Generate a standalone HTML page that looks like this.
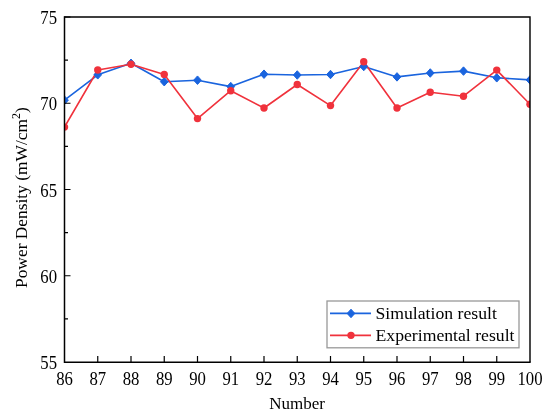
<!DOCTYPE html>
<html><head><meta charset="utf-8"><style>
html,body{margin:0;padding:0;background:#fff;}
body{width:550px;height:417px;overflow:hidden;}
svg{display:block;}
text{font-family:"Liberation Serif","Times New Roman",serif;fill:#000;}
</style></head><body>
<svg width="550" height="417" viewBox="0 0 550 417">
<rect width="550" height="417" fill="#fff"/>

<defs><clipPath id="c"><rect x="64.5" y="17.0" width="465.5" height="345.0"/></clipPath></defs>
<g clip-path="url(#c)">
<polyline points="64.50,100.20 97.75,74.80 131.00,63.30 164.25,81.70 197.50,80.20 230.75,86.60 264.00,74.20 297.25,75.00 330.50,74.50 363.75,66.50 397.00,76.90 430.25,73.00 463.50,71.10 496.75,77.80 530.00,79.90" fill="none" stroke="#1a64de" stroke-width="1.6" stroke-linejoin="round"/>
<polyline points="64.50,127.10 97.75,70.00 131.00,64.30 164.25,74.40 197.50,118.60 230.75,90.70 264.00,108.00 297.25,84.50 330.50,105.60 363.75,61.70 397.00,108.00 430.25,92.20 463.50,96.20 496.75,70.10 530.00,104.30" fill="none" stroke="#f0323c" stroke-width="1.6" stroke-linejoin="round"/>
<g fill="#1a64de" stroke="#1a64de" stroke-width="1" stroke-linejoin="round"><path d="M64.50 95.95L68.35 100.20L64.50 104.45L60.65 100.20Z"/><path d="M97.75 70.55L101.60 74.80L97.75 79.05L93.90 74.80Z"/><path d="M131.00 59.05L134.85 63.30L131.00 67.55L127.15 63.30Z"/><path d="M164.25 77.45L168.10 81.70L164.25 85.95L160.40 81.70Z"/><path d="M197.50 75.95L201.35 80.20L197.50 84.45L193.65 80.20Z"/><path d="M230.75 82.35L234.60 86.60L230.75 90.85L226.90 86.60Z"/><path d="M264.00 69.95L267.85 74.20L264.00 78.45L260.15 74.20Z"/><path d="M297.25 70.75L301.10 75.00L297.25 79.25L293.40 75.00Z"/><path d="M330.50 70.25L334.35 74.50L330.50 78.75L326.65 74.50Z"/><path d="M363.75 62.25L367.60 66.50L363.75 70.75L359.90 66.50Z"/><path d="M397.00 72.65L400.85 76.90L397.00 81.15L393.15 76.90Z"/><path d="M430.25 68.75L434.10 73.00L430.25 77.25L426.40 73.00Z"/><path d="M463.50 66.85L467.35 71.10L463.50 75.35L459.65 71.10Z"/><path d="M496.75 73.55L500.60 77.80L496.75 82.05L492.90 77.80Z"/><path d="M530.00 75.65L533.85 79.90L530.00 84.15L526.15 79.90Z"/></g>
<g fill="#f0323c"><circle cx="64.50" cy="127.10" r="3.7"/><circle cx="97.75" cy="70.00" r="3.7"/><circle cx="131.00" cy="64.30" r="3.7"/><circle cx="164.25" cy="74.40" r="3.7"/><circle cx="197.50" cy="118.60" r="3.7"/><circle cx="230.75" cy="90.70" r="3.7"/><circle cx="264.00" cy="108.00" r="3.7"/><circle cx="297.25" cy="84.50" r="3.7"/><circle cx="330.50" cy="105.60" r="3.7"/><circle cx="363.75" cy="61.70" r="3.7"/><circle cx="397.00" cy="108.00" r="3.7"/><circle cx="430.25" cy="92.20" r="3.7"/><circle cx="463.50" cy="96.20" r="3.7"/><circle cx="496.75" cy="70.10" r="3.7"/><circle cx="530.00" cy="104.30" r="3.7"/></g>
</g>
<path d="M97.75 362.0V356.0M131.00 362.0V356.0M164.25 362.0V356.0M197.50 362.0V356.0M230.75 362.0V356.0M264.00 362.0V356.0M297.25 362.0V356.0M330.50 362.0V356.0M363.75 362.0V356.0M397.00 362.0V356.0M430.25 362.0V356.0M463.50 362.0V356.0M496.75 362.0V356.0M64.5 275.75H70.5M64.5 189.50H70.5M64.5 103.25H70.5M64.5 17.00H70.5M64.5 318.88H68.0M64.5 232.62H68.0M64.5 146.38H68.0M64.5 60.12H68.0" stroke="#000" stroke-width="1.2" fill="none"/>
<path d="M64.5 17.0H530.0V362.0" stroke="#000" stroke-width="1.42" fill="none"/>
<path d="M64.5 16.3V362.2H530.7" stroke="#000" stroke-width="1.5" fill="none"/>
<rect x="327" y="301" width="192" height="46.8" fill="#fff" stroke="#999" stroke-width="1.3"/>
<path d="M330 313.4H371" stroke="#1a64de" stroke-width="1.6"/>
<g fill="#1a64de" stroke="#1a64de" stroke-width="1" stroke-linejoin="round"><path d="M351.00 309.20L354.85 313.45L351.00 317.70L347.15 313.45Z"/></g>
<path d="M330 335.4H371" stroke="#f0323c" stroke-width="1.6"/>
<circle cx="351" cy="335.35" r="3.7" fill="#f0323c"/>
<text x="375.5" y="319" font-size="17.7">Simulation result</text>
<text x="375.5" y="340.9" font-size="17.7">Experimental result</text>
<text transform="translate(57.0 369.20) scale(0.94 1)" font-size="17.8" text-anchor="end">55</text>
<text transform="translate(57.0 282.95) scale(0.94 1)" font-size="17.8" text-anchor="end">60</text>
<text transform="translate(57.0 196.70) scale(0.94 1)" font-size="17.8" text-anchor="end">65</text>
<text transform="translate(57.0 110.45) scale(0.94 1)" font-size="17.8" text-anchor="end">70</text>
<text transform="translate(57.0 24.20) scale(0.94 1)" font-size="17.8" text-anchor="end">75</text>
<text transform="translate(64.50 384.6) scale(0.94 1)" font-size="17.8" text-anchor="middle">86</text>
<text transform="translate(97.75 384.6) scale(0.94 1)" font-size="17.8" text-anchor="middle">87</text>
<text transform="translate(131.00 384.6) scale(0.94 1)" font-size="17.8" text-anchor="middle">88</text>
<text transform="translate(164.25 384.6) scale(0.94 1)" font-size="17.8" text-anchor="middle">89</text>
<text transform="translate(197.50 384.6) scale(0.94 1)" font-size="17.8" text-anchor="middle">90</text>
<text transform="translate(230.75 384.6) scale(0.94 1)" font-size="17.8" text-anchor="middle">91</text>
<text transform="translate(264.00 384.6) scale(0.94 1)" font-size="17.8" text-anchor="middle">92</text>
<text transform="translate(297.25 384.6) scale(0.94 1)" font-size="17.8" text-anchor="middle">93</text>
<text transform="translate(330.50 384.6) scale(0.94 1)" font-size="17.8" text-anchor="middle">94</text>
<text transform="translate(363.75 384.6) scale(0.94 1)" font-size="17.8" text-anchor="middle">95</text>
<text transform="translate(397.00 384.6) scale(0.94 1)" font-size="17.8" text-anchor="middle">96</text>
<text transform="translate(430.25 384.6) scale(0.94 1)" font-size="17.8" text-anchor="middle">97</text>
<text transform="translate(463.50 384.6) scale(0.94 1)" font-size="17.8" text-anchor="middle">98</text>
<text transform="translate(496.75 384.6) scale(0.94 1)" font-size="17.8" text-anchor="middle">99</text>
<text transform="translate(530.00 384.6) scale(0.94 1)" font-size="17.8" text-anchor="middle">100</text>
<text x="297" y="409" font-size="17" text-anchor="middle">Number</text>
<text transform="translate(26.85,288) rotate(-90)" font-size="17.4">Power Density (mW/cm<tspan dy="-6.5" font-size="12">2</tspan><tspan dy="6.5">)</tspan></text>
</svg>
</body></html>
